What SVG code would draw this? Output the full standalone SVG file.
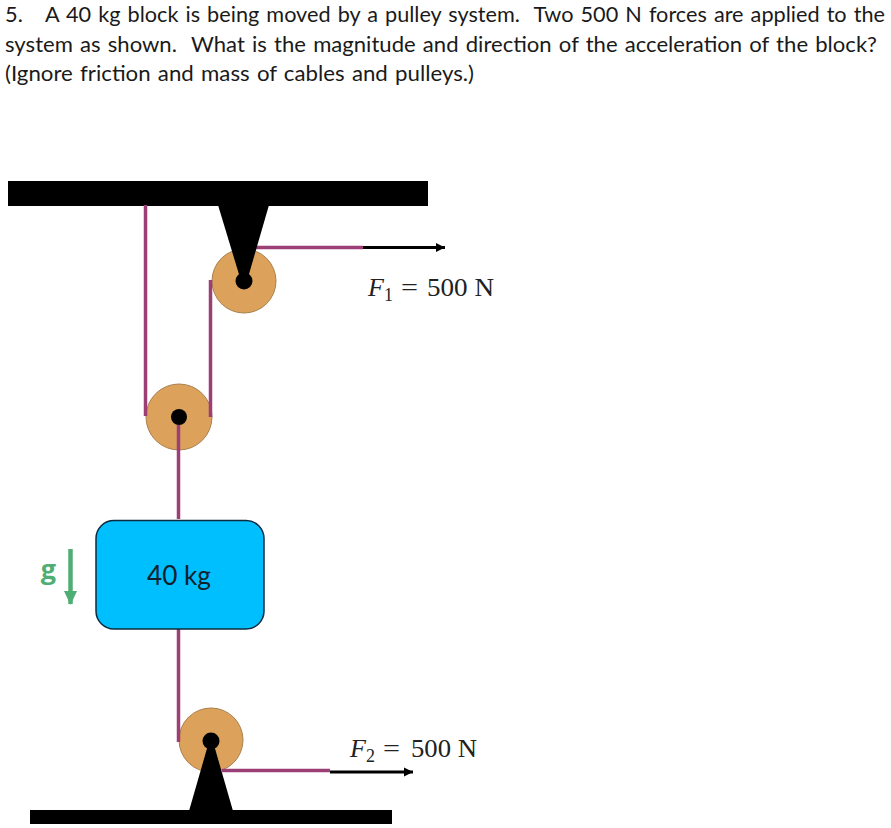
<svg xmlns="http://www.w3.org/2000/svg" width="891" height="828" viewBox="0 0 891 828">
<style>
.q{font-family:"Lato","Liberation Sans",sans-serif;font-size:21.800px;fill:#1a1a1a;word-spacing:1.500px;white-space:pre}
.m{font-family:"Liberation Serif","DejaVu Serif",serif;font-size:26px;fill:#222}
.rope{fill:none;stroke:#9c3f76;stroke-width:3.500}
.force{stroke:#000;stroke-width:2.800;fill:none}
.pulley{fill:#dca25c;stroke:#a9804e;stroke-width:1}
.solid{fill:#000}
</style>
<defs>
<marker id="ah" markerUnits="userSpaceOnUse" markerWidth="10" markerHeight="10" refX="9" refY="5" orient="auto"><path d="M0 0.500L9 5L0 9.500Z" fill="#000"/></marker>
</defs>
<g id="question">
<text class="q" x="5" y="22">5.</text>
<text class="q" x="45" y="22" textLength="840" lengthAdjust="spacingAndGlyphs">A 40 kg block is being moved by a pulley system.  Two 500 N forces are applied to the</text>
<text class="q" x="5" y="52" textLength="872" lengthAdjust="spacingAndGlyphs">system as shown.  What is the magnitude and direction of the acceleration of the block?</text>
<text class="q" x="5" y="81" textLength="469" lengthAdjust="spacingAndGlyphs">(Ignore friction and mass of cables and pulleys.)</text>
</g>
<g id="top-support">
<rect class="solid" x="8" y="181" width="420" height="25"/>
</g>
<g id="pulley-top">
<circle class="pulley" cx="244" cy="281" r="32"/>
</g>
<g id="pulley-middle">
<circle class="pulley" cx="179" cy="417" r="33"/>
<circle class="solid" cx="179" cy="417" r="8"/>
</g>
<g id="pulley-bottom">
<circle class="pulley" cx="211" cy="740" r="32"/>
</g>
<g id="connectors">
<path class="rope" d="M145.500 205V416"/>
<path class="rope" d="M210.500 280V417"/>
<path class="rope" d="M178.500 425V519"/>
<path class="rope" d="M178.500 629V742"/>
<path class="rope" d="M256 247.500H363"/>
<path class="rope" d="M222 770.500H330"/>
<path class="force" d="M363 247.500H445" marker-end="url(#ah)"/>
<path class="force" d="M330 772H413" marker-end="url(#ah)"/>
<path d="M70.500 549V604" fill="none" stroke="#4fae73" stroke-width="4.500"/>
<path d="M64 591H77L70.500 605Z" fill="#4fae73"/>
</g>
<g id="top-bracket">
<path class="solid" d="M218 205H269L247 281H241Z"/>
<circle class="solid" cx="244" cy="281" r="8.500"/>
</g>
<g id="bottom-bracket">
<path class="solid" d="M208 745H214L233 811H189Z"/>
<circle class="solid" cx="211" cy="741" r="8.500"/>
<rect class="solid" x="30" y="810" width="362" height="14"/>
</g>
<g id="block">
<rect x="96" y="520.500" width="168" height="108.500" rx="18" fill="#00bfff" stroke="#0d2b3f" stroke-width="1.500"/>
<text x="179" y="585" text-anchor="middle" font-family="Lato,'Liberation Sans',sans-serif" font-size="27" fill="#10212b" textLength="64" lengthAdjust="spacingAndGlyphs">40 kg</text>
</g>
<g id="gravity-label">
<text x="48.500" y="579" text-anchor="middle" font-family="'Open Sans',Lato,sans-serif" font-size="27" font-weight="700" fill="#4fae73">g</text>
</g>
<g id="label-f1">
<text class="m" x="368" y="296"><tspan font-style="italic">F</tspan><tspan font-size="18" dy="5">1</tspan></text>
<text class="m" x="401" y="296" textLength="17" lengthAdjust="spacingAndGlyphs">=</text>
<text class="m" x="427" y="296" textLength="67" lengthAdjust="spacingAndGlyphs">500 N</text>
</g>
<g id="label-f2">
<text class="m" x="350" y="757"><tspan font-style="italic">F</tspan><tspan font-size="18" dy="5">2</tspan></text>
<text class="m" x="383" y="757" textLength="17" lengthAdjust="spacingAndGlyphs">=</text>
<text class="m" x="411" y="757" textLength="66" lengthAdjust="spacingAndGlyphs">500 N</text>
</g>
</svg>
